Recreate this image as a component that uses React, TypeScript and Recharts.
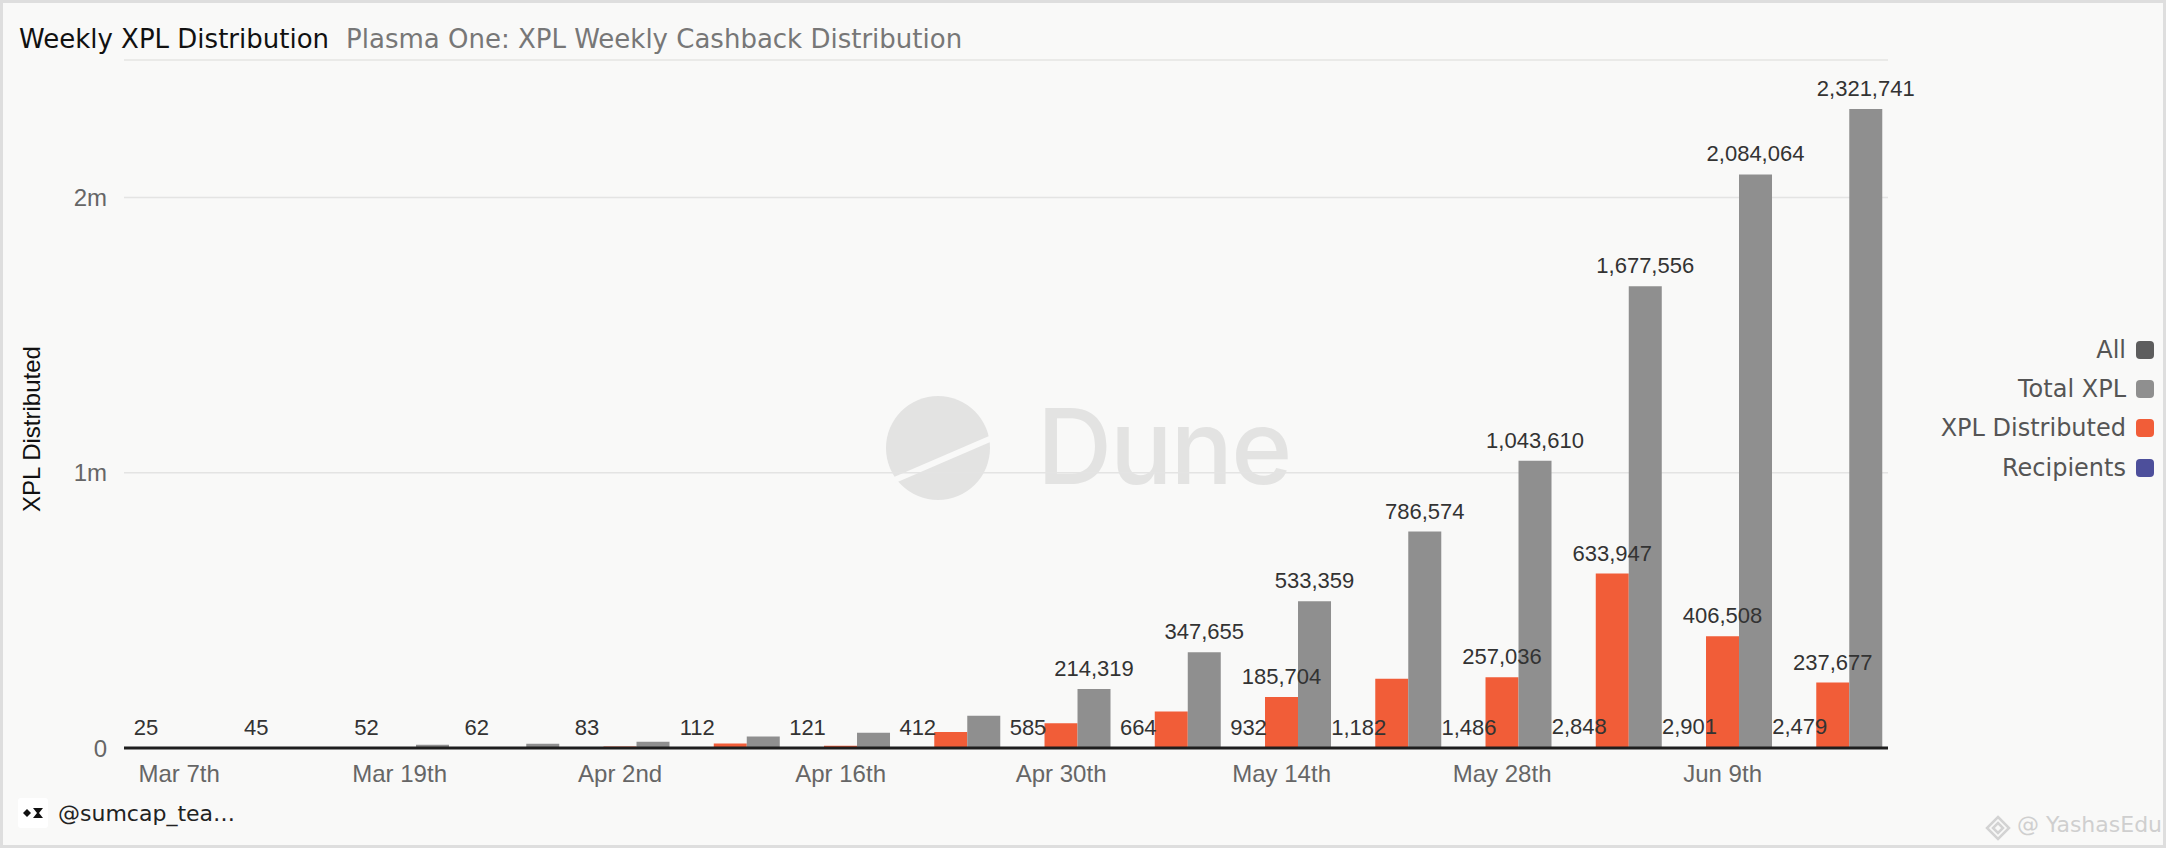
import { BarChart, Bar, XAxis, YAxis, CartesianGrid, LabelList } from "recharts";

// weekly buckets shown on the x axis (every other one is labelled)
const weeks = [
  "Mar 7th", "Mar 12th", "Mar 19th", "Mar 26th", "Apr 2nd", "Apr 9th",
  "Apr 16th", "Apr 23rd", "Apr 30th", "May 7th", "May 14th", "May 21st",
  "May 28th", "Jun 2nd", "Jun 9th", "Jun 16th",
];
const recipients = [25, 45, 52, 62, 83, 112, 121, 412, 585, 664, 932, 1182, 1486, 2848, 2901, 2479];
const xplDistributed = [
  1200, 1500, 2000, 1800, 5000, 16000, 8000, 58000, 90000, 133000,
  185704, 252000, 257036, 633947, 406508, 237677,
];
const totalXpl = [
  2500, 3000, 12000, 15000, 23000, 42000, 55000, 117000, 214319, 347655,
  533359, 786574, 1043610, 1677556, 2084064, 2321741,
];
const yTicks = [0, 1000000, 2000000];

// Dune hides overlapping labels; these are the ones that stay visible
const distributedLabelWeeks = [10, 12, 13, 14, 15];
const totalLabelWeeks = [8, 9, 10, 11, 12, 13, 14, 15];

const legendItems = [
  { name: "All", color: "#5d5d5d" },
  { name: "Total XPL", color: "#8f8f8f" },
  { name: "XPL Distributed", color: "#f15d38" },
  { name: "Recipients", color: "#4d4f9b" },
];

const data = weeks.map((week, i) => ({
  week,
  recipients: recipients[i],
  distributed: xplDistributed[i],
  total: totalXpl[i],
}));

const UI_FONT = "'DejaVu Sans', sans-serif";
const CHART_FONT = "'Liberation Sans', Arial, sans-serif";

function valueLabel(visible: number[] | null) {
  return (props: any) => {
    const { x, y, width, value, index } = props;
    if (visible && !visible.includes(index)) return null;
    return (
      <text
        x={Number(x) + Number(width) / 2}
        y={Number(y) - 13}
        textAnchor="middle"
        fontSize={22}
        fontFamily={CHART_FONT}
        fill="#333"
      >
        {Number(value).toLocaleString("en-US")}
      </text>
    );
  };
}

export default function App() {
  return (
    <div
      style={{
        position: "relative",
        width: 2166,
        height: 848,
        boxSizing: "border-box",
        border: "3px solid #dedede",
        background: "#f9f9f8",
        overflow: "hidden",
      }}
    >
      <style>{`body{margin:0}`}</style>

      {/* Dune watermark */}
      <svg
        style={{ position: "absolute", left: 880, top: 390 }}
        width={116}
        height={116}
        viewBox="0 0 116 116"
      >
        <circle cx={55} cy={55} r={52} fill="#e3e3e2" />
        <line x1={0} y1={92} x2={116} y2={42} stroke="#f9f9f8" strokeWidth={6} />
      </svg>
      <div
        style={{
          position: "absolute",
          left: 1034,
          top: 378,
          fontFamily: "Inter, sans-serif",
          fontSize: 104,
          fontWeight: 500,
          letterSpacing: -2,
          color: "#e3e3e2",
          lineHeight: "130px",
        }}
      >
        Dune
      </div>

      <div
        style={{
          position: "absolute",
          left: 16,
          top: 20,
          lineHeight: "32px",
          fontFamily: UI_FONT,
          fontSize: 26,
          whiteSpace: "nowrap",
        }}
      >
        <span style={{ color: "#111" }}>Weekly XPL Distribution</span>
        <span style={{ color: "#777", marginLeft: 17 }}>
          Plasma One: XPL Weekly Cashback Distribution
        </span>
      </div>

      <div
        style={{
          position: "absolute",
          left: 32 - 100 - 3,
          top: 429 - 15 - 3,
          width: 200,
          height: 30,
          lineHeight: "30px",
          textAlign: "center",
          transform: "rotate(-90deg)",
          fontFamily: CHART_FONT,
          fontSize: 24,
          color: "#111",
        }}
      >
        XPL Distributed
      </div>

      <BarChart
        style={{ position: "absolute", left: -3, top: -3, outline: "none" }}
        width={2170}
        height={848}
        data={data}
        margin={{ top: 60, right: 282, bottom: 60, left: 0 }}
        barCategoryGap="5%"
        barGap={0}
      >
        <CartesianGrid vertical={false} stroke="#e4e4e3" strokeWidth={1.5} />
        <XAxis
          dataKey="week"
          interval={1}
          height={40}
          tickLine={false}
          tickSize={0}
          tickMargin={17}
          axisLine={{ stroke: "#1e1e1e", strokeWidth: 3 }}
          tick={{ fontSize: 24, fill: "#666", fontFamily: CHART_FONT }}
        />
        <YAxis
          width={124}
          domain={[0, 2500000]}
          ticks={yTicks}
          axisLine={false}
          tickLine={false}
          tickSize={0}
          tickMargin={17}
          tickFormatter={(v: number) => (v === 0 ? "0" : `${v / 1000000}m`)}
          tick={{ fontSize: 24, fill: "#666", fontFamily: CHART_FONT }}
        />
        <Bar dataKey="recipients" fill="#4d4f9b" isAnimationActive={false}>
          <LabelList dataKey="recipients" content={valueLabel(null)} />
        </Bar>
        <Bar dataKey="distributed" fill="#f15d38" isAnimationActive={false}>
          <LabelList dataKey="distributed" content={valueLabel(distributedLabelWeeks)} />
        </Bar>
        <Bar dataKey="total" fill="#8f8f8f" isAnimationActive={false}>
          <LabelList dataKey="total" content={valueLabel(totalLabelWeeks)} />
        </Bar>
      </BarChart>

      {/* legend */}
      <div
        style={{
          position: "absolute",
          right: 2166 - 2157,
          top: 330 - 3,
          fontFamily: UI_FONT,
          fontSize: 24,
          color: "#555",
        }}
      >
        {legendItems.map((item) => (
          <div
            key={item.name}
            style={{
              height: 39.3,
              display: "flex",
              alignItems: "center",
              justifyContent: "flex-end",
            }}
          >
            <span>{item.name}</span>
            <span
              style={{
                display: "inline-block",
                width: 18,
                height: 18,
                borderRadius: 4,
                background: item.color,
                marginLeft: 10,
              }}
            />
          </div>
        ))}
      </div>

      {/* footer */}
      <div
        style={{
          position: "absolute",
          left: 15,
          top: 795,
          width: 30,
          height: 30,
          background: "#fff",
          borderRadius: 3,
        }}
      >
        <svg width={30} height={30} viewBox="0 0 30 30">
          <path d="M9 11 L13 15 L9 19 L5 15 Z" fill="#111" />
          <path d="M15 10 L25 10 L21 15 L25 20 L15 20 L19 15 Z" fill="#111" />
        </svg>
      </div>
      <div
        style={{
          position: "absolute",
          left: 55,
          top: 796,
          lineHeight: "30px",
          fontFamily: UI_FONT,
          fontSize: 22,
          color: "#222",
        }}
      >
        @sumcap_tea…
      </div>
      <svg
        style={{ position: "absolute", left: 1980, top: 810 }}
        width={30}
        height={30}
        viewBox="0 0 30 30"
      >
        <path
          d="M15 4 L26 15 L15 26 L4 15 Z M15 10 L20 15 L15 20 L10 15 Z"
          fill="none"
          stroke="#d3d3d3"
          strokeWidth={2.5}
        />
      </svg>
      <div
        style={{
          position: "absolute",
          left: 2014,
          top: 807,
          lineHeight: "30px",
          fontFamily: UI_FONT,
          fontSize: 22,
          color: "#cfcfcf",
        }}
      >
        @ YashasEdu
      </div>
    </div>
  );
}
